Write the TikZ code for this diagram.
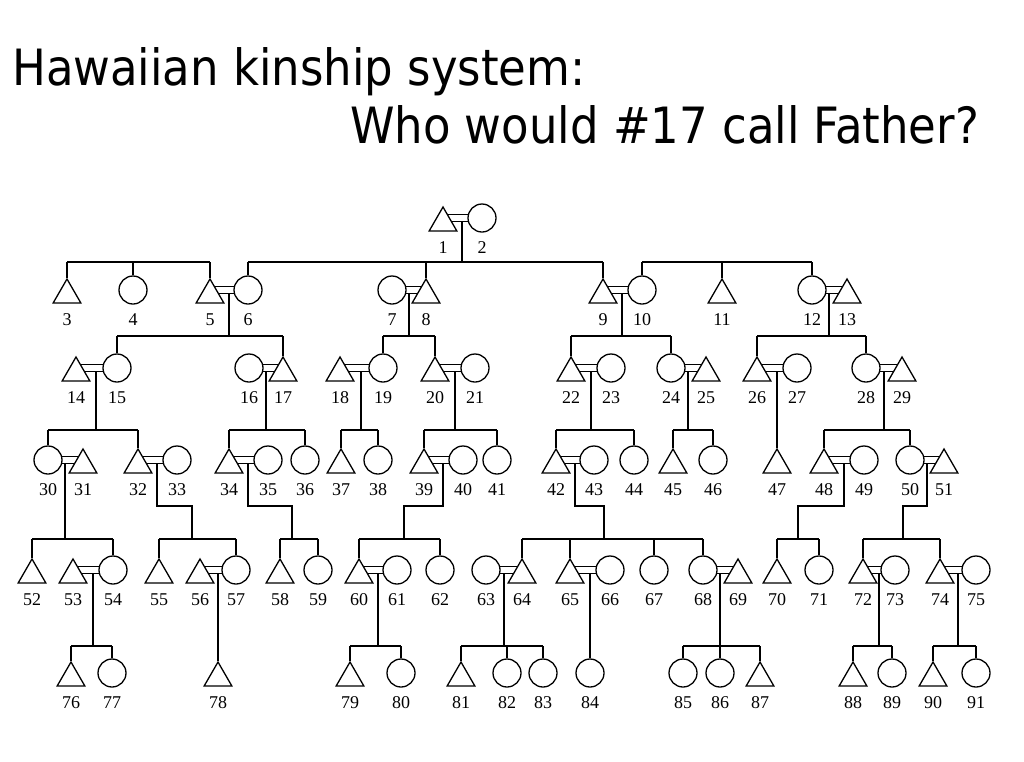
\documentclass[tikz,border=0pt]{standalone}
\usepackage{fontspec}
\setmainfont{Liberation Serif}
\newfontfamily\titlefont{DejaVu Sans Condensed}
\usetikzlibrary{shapes.geometric,backgrounds}
\tikzset{
  base/.style={draw,fill=white,line width=1.3pt,inner sep=0pt},
  tri/.style={base,regular polygon,regular polygon sides=3,minimum size=32pt},
  cir/.style={base,circle,minimum size=28pt},
  lab/.style={font=\fontsize{18}{18}\selectfont,inner sep=0pt},
  ln/.style={line width=1.4pt},
  ttl/.style={font=\titlefont\fontsize{50}{50}\selectfont,anchor=base west,inner sep=0pt}
}
\newcommand\Tri[3]{\node[tri] (p#1) at (#2,#3+5) {}; \node[lab] (l#1) at (#2,#3+30) {#1};}
\newcommand\Cir[3]{\node[cir] (p#1) at (#2,#3) {}; \node[lab] (l#1) at (#2,#3+30) {#1};}
% marriage: a b xa xb y
\newcommand\Mar[5]{%
  \begin{pgfonlayer}{background}
  \draw[ln] (p#1 |- 0,#5-3.5) -- (p#2 |- 0,#5-3.5);
  \draw[ln] (p#1 |- 0,#5+3.5) -- (p#2 |- 0,#5+3.5);
  \end{pgfonlayer}
  \pgfmathtruncatemacro\mx{(#3+#4)/2}%
  \coordinate (m#1) at (\mx,#5+3.5);}
\newcommand\Sib[3]{\draw[ln] (#1 |- 0,#3) -- (#2 |- 0,#3);}
\newcommand\Kid[2]{\draw[ln] (p#1 |- 0,#2) -- (p#1.north);}
\begin{document}
\begin{tikzpicture}[x=1pt,y=-1pt]
\useasboundingbox (0,0) rectangle (1024,761);
\node[ttl] (t1) at (12,85) {Hawaiian kinship system:};
\node[ttl] (t2) at (350,143) {Who would \#17 call Father?};
% row 0
\Tri{1}{443}{218}\Cir{2}{482}{218}
% row 1
\Tri{3}{67}{290}\Cir{4}{133}{290}\Tri{5}{210}{290}\Cir{6}{248}{290}
\Cir{7}{392}{290}\Tri{8}{426}{290}\Tri{9}{603}{290}\Cir{10}{642}{290}
\Tri{11}{722}{290}\Cir{12}{812}{290}\Tri{13}{847}{290}
% row 2
\Tri{14}{76}{368}\Cir{15}{117}{368}\Cir{16}{249}{368}\Tri{17}{283}{368}
\Tri{18}{340}{368}\Cir{19}{383}{368}\Tri{20}{435}{368}\Cir{21}{475}{368}
\Tri{22}{571}{368}\Cir{23}{611}{368}\Cir{24}{671}{368}\Tri{25}{706}{368}
\Tri{26}{757}{368}\Cir{27}{797}{368}\Cir{28}{866}{368}\Tri{29}{902}{368}
% row 3
\Cir{30}{48}{460}\Tri{31}{83}{460}\Tri{32}{138}{460}\Cir{33}{177}{460}
\Tri{34}{229}{460}\Cir{35}{268}{460}\Cir{36}{305}{460}\Tri{37}{341}{460}
\Cir{38}{378}{460}\Tri{39}{424}{460}\Cir{40}{463}{460}\Cir{41}{497}{460}
\Tri{42}{556}{460}\Cir{43}{594}{460}\Cir{44}{634}{460}\Tri{45}{673}{460}
\Cir{46}{713}{460}\Tri{47}{777}{460}\Tri{48}{824}{460}\Cir{49}{864}{460}
\Cir{50}{910}{460}\Tri{51}{944}{460}
% row 4
\Tri{52}{32}{570}\Tri{53}{73}{570}\Cir{54}{113}{570}\Tri{55}{159}{570}
\Tri{56}{200}{570}\Cir{57}{236}{570}\Tri{58}{280}{570}\Cir{59}{318}{570}
\Tri{60}{359}{570}\Cir{61}{397}{570}\Cir{62}{440}{570}\Cir{63}{486}{570}
\Tri{64}{522}{570}\Tri{65}{570}{570}\Cir{66}{610}{570}\Cir{67}{654}{570}
\Cir{68}{703}{570}\Tri{69}{738}{570}\Tri{70}{777}{570}\Cir{71}{819}{570}
\Tri{72}{863}{570}\Cir{73}{895}{570}\Tri{74}{940}{570}\Cir{75}{976}{570}
% row 5
\Tri{76}{71}{673}\Cir{77}{112}{673}\Tri{78}{218}{673}\Tri{79}{350}{673}
\Cir{80}{401}{673}\Tri{81}{461}{673}\Cir{82}{507}{673}\Cir{83}{543}{673}
\Cir{84}{590}{673}\Cir{85}{683}{673}\Cir{86}{720}{673}\Tri{87}{760}{673}
\Tri{88}{853}{673}\Cir{89}{892}{673}\Tri{90}{933}{673}\Cir{91}{976}{673}
% marriages
\Mar{1}{2}{443}{482}{218}
\Mar{5}{6}{210}{248}{290}\Mar{7}{8}{392}{426}{290}\Mar{9}{10}{603}{642}{290}\Mar{12}{13}{812}{847}{290}
\Mar{14}{15}{76}{117}{368}\Mar{16}{17}{249}{283}{368}\Mar{18}{19}{340}{383}{368}\Mar{20}{21}{435}{475}{368}
\Mar{22}{23}{571}{611}{368}\Mar{24}{25}{671}{706}{368}\Mar{26}{27}{757}{797}{368}\Mar{28}{29}{866}{902}{368}
\Mar{30}{31}{48}{83}{460}\Mar{32}{33}{138}{177}{460}\Mar{34}{35}{229}{268}{460}\Mar{39}{40}{424}{463}{460}
\Mar{42}{43}{556}{594}{460}\Mar{48}{49}{824}{864}{460}\Mar{50}{51}{910}{944}{460}
\Mar{53}{54}{73}{113}{570}\Mar{56}{57}{200}{236}{570}\Mar{60}{61}{359}{397}{570}\Mar{63}{64}{486}{522}{570}
\Mar{65}{66}{570}{610}{570}\Mar{68}{69}{703}{738}{570}\Mar{72}{73}{863}{895}{570}\Mar{74}{75}{940}{976}{570}
% row 1 sibships
\Sib{p3}{p5}{262}\Kid{3}{262}\Kid{4}{262}\Kid{5}{262}
\draw[ln] (m1) -- (m1 |- 0,262);
\Sib{p6}{p9}{262}\Kid{6}{262}\Kid{8}{262}\Kid{9}{262}
\Sib{p10}{p12}{262}\Kid{10}{262}\Kid{11}{262}\Kid{12}{262}
% row 2 sibships
\draw[ln] (m5) -- (m5 |- 0,336); \Sib{p15}{p17}{336}\Kid{15}{336}\Kid{17}{336}
\draw[ln] (m7) -- (m7 |- 0,336); \Sib{p19}{p20}{336}\Kid{19}{336}\Kid{20}{336}
\draw[ln] (m9) -- (m9 |- 0,336); \Sib{p22}{p24}{336}\Kid{22}{336}\Kid{24}{336}
\draw[ln] (m12) -- (m12 |- 0,336); \Sib{p26}{p28}{336}\Kid{26}{336}\Kid{28}{336}
% row 3 sibships
\draw[ln] (m14) -- (m14 |- 0,430); \Sib{p30}{p32}{430}\Kid{30}{430}\Kid{32}{430}
\draw[ln] (m16) -- (m16 |- 0,430); \Sib{p34}{p36}{430}\Kid{34}{430}\Kid{36}{430}
\draw[ln] (m18) -- (m18 |- 0,430); \Sib{p37}{p38}{430}\Kid{37}{430}\Kid{38}{430}
\draw[ln] (m20) -- (m20 |- 0,430); \Sib{p39}{p41}{430}\Kid{39}{430}\Kid{41}{430}
\draw[ln] (m22) -- (m22 |- 0,430); \Sib{p42}{p44}{430}\Kid{42}{430}\Kid{44}{430}
\draw[ln] (m24) -- (m24 |- 0,430); \Sib{p45}{p46}{430}\Kid{45}{430}\Kid{46}{430}
\draw[ln] (m26) -- (p47.north);
\draw[ln] (m28) -- (m28 |- 0,430); \Sib{p48}{p50}{430}\Kid{48}{430}\Kid{50}{430}
% row 4 sibships
\draw[ln] (m30) -- (m30 |- 0,539); \Sib{p52}{p54}{539}\Kid{52}{539}\Kid{54}{539}
\coordinate (j32) at (192,539); \draw[ln] (m32) |- (192,506) -- (j32);
\Sib{p55}{p57}{539}\Kid{55}{539}\Kid{57}{539}
\coordinate (j34) at (292,539); \draw[ln] (m34) |- (292,506) -- (j34);
\Sib{p58}{p59}{539}\Kid{58}{539}\Kid{59}{539}
\coordinate (j39) at (404,539); \draw[ln] (m39) |- (404,506) -- (j39);
\Sib{p60}{p62}{539}\Kid{60}{539}\Kid{62}{539}
\coordinate (j42) at (604,539); \draw[ln] (m42) |- (604,506) -- (j42);
\Sib{p64}{p68}{539}\Kid{64}{539}\Kid{65}{539}\Kid{67}{539}\Kid{68}{539}
\coordinate (j48) at (798,539); \draw[ln] (m48) |- (798,506) -- (j48);
\Sib{p70}{p71}{539}\Kid{70}{539}\Kid{71}{539}
\coordinate (j50) at (903,539); \draw[ln] (m50) |- (903,506) -- (j50);
\Sib{p72}{p74}{539}\Kid{72}{539}\Kid{74}{539}
% row 5 sibships
\draw[ln] (m53) -- (m53 |- 0,646); \Sib{p76}{p77}{646}\Kid{76}{646}\Kid{77}{646}
\draw[ln] (m56) -- (p78.north);
\draw[ln] (m60) -- (m60 |- 0,646); \Sib{p79}{p80}{646}\Kid{79}{646}\Kid{80}{646}
\draw[ln] (m63) -- (m63 |- 0,646); \Sib{p81}{p83}{646}\Kid{81}{646}\Kid{82}{646}\Kid{83}{646}
\draw[ln] (m65) -- (p84.north);
\draw[ln] (m68) -- (m68 |- 0,646); \Sib{p85}{p87}{646}\Kid{85}{646}\Kid{86}{646}\Kid{87}{646}
\draw[ln] (m72) -- (m72 |- 0,646); \Sib{p88}{p89}{646}\Kid{88}{646}\Kid{89}{646}
\draw[ln] (m74) -- (m74 |- 0,646); \Sib{p90}{p91}{646}\Kid{90}{646}\Kid{91}{646}
\end{tikzpicture}
\end{document}
